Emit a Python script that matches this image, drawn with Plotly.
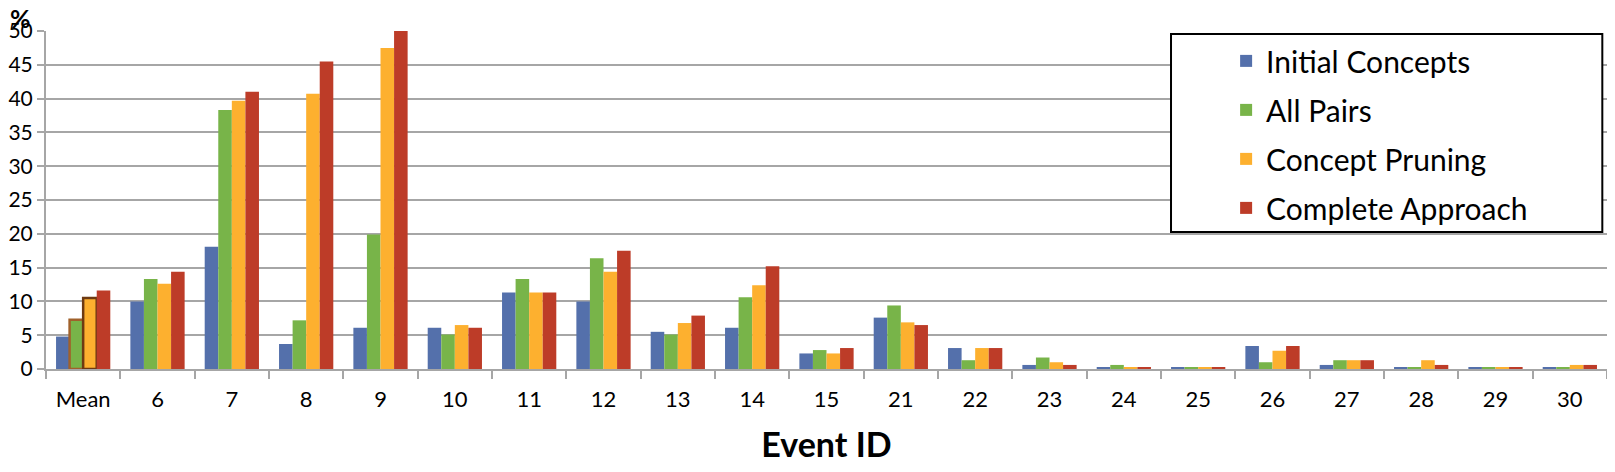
import plotly.graph_objects as go

# event ids on the x axis
events = ["Mean", "6", "7", "8", "9", "10", "11", "12", "13", "14", "15",
          "21", "22", "23", "24", "25", "26", "27", "28", "29", "30"]

# percentages, one list per approach
initial_concepts = [4.8, 10.0, 18.1, 3.7, 6.1, 6.1, 11.3, 10.0, 5.5, 6.1, 2.3,
                    7.6, 3.1, 0.6, 0.3, 0.3, 3.4, 0.6, 0.3, 0.3, 0.3]
all_pairs = [7.3, 13.3, 38.3, 7.2, 19.9, 5.1, 13.3, 16.4, 5.1, 10.6, 2.8,
             9.4, 1.3, 1.7, 0.6, 0.3, 1.0, 1.3, 0.3, 0.3, 0.3]
concept_pruning = [10.5, 12.6, 39.7, 40.7, 47.5, 6.5, 11.3, 14.4, 6.8, 12.4, 2.3,
                   6.9, 3.1, 1.0, 0.3, 0.3, 2.7, 1.3, 1.3, 0.3, 0.6]
complete_approach = [11.6, 14.4, 41.0, 45.5, 50.0, 6.1, 11.3, 17.5, 7.9, 15.2, 3.1,
                     6.5, 3.1, 0.6, 0.3, 0.3, 3.4, 1.3, 0.6, 0.3, 0.6]

y_ticks = [0, 5, 10, 15, 20, 25, 30, 35, 40, 45, 50]

series = [
    ("Initial Concepts", initial_concepts, "#5470AB", None),
    ("All Pairs", all_pairs, "#78B449", "#A0612B"),
    ("Concept Pruning", concept_pruning, "#FDB02F", "#6E3A12"),
    ("Complete Approach", complete_approach, "#BD3C28", None),
]

fig = go.Figure()
for i, (name, vals, color, outline) in enumerate(series):
    fig.add_trace(go.Bar(x=events, y=vals, name=name, offsetgroup=str(i),
                         legendgroup=str(i), marker=dict(color=color, line=dict(width=0))))
    # the Mean bars of two series carry a dark outline in the original;
    # drawn as an extra bar in the same offset group so the legend stays plain
    if outline:
        fig.add_trace(go.Bar(x=events[:1], y=vals[:1], offsetgroup=str(i),
                             showlegend=False, hoverinfo="skip",
                             marker=dict(color=color, line=dict(color=outline, width=2.5))))

# the page body has an 8px margin, so the figure is kept 16px smaller than the window
fig.update_layout(
    width=1599, height=456,
    barmode="group", bargap=0.27, bargroupgap=0.0,
    plot_bgcolor="white", paper_bgcolor="white",
    margin=dict(l=38, r=0, t=23, b=85),
    font=dict(family="Lato, sans-serif", color="black"),
    legend=dict(x=0.756, y=0.9885, xanchor="left", yanchor="top",
                bgcolor="rgba(0,0,0,0)", borderwidth=0,
                font=dict(size=30), tracegroupgap=7, itemwidth=30),
    # wide white box behind the legend, as in the original
    shapes=[dict(type="rect", xref="paper", yref="paper", x0=0.7207, x1=0.997,
                 y0=0.405, y1=0.991, fillcolor="white", layer="above",
                 line=dict(color="black", width=2))],
    annotations=[dict(text="<b>%</b>", xref="paper", yref="paper", x=0, y=1.0,
                      xanchor="left", yanchor="bottom", xshift=-38, yshift=-4,
                      showarrow=False, font=dict(size=25))],
)
fig.update_xaxes(showline=True, linecolor="#A6A6A6", linewidth=2,
                 ticks="outside", tickson="boundaries", ticklen=8, tickwidth=2,
                 tickcolor="#A6A6A6", tickfont=dict(size=22), ticklabelstandoff=10,
                 title=dict(text="<b>Event ID</b>", font=dict(size=34), standoff=28))
fig.update_yaxes(range=[0, 50], tickvals=y_ticks, showgrid=True, gridcolor="#A6A6A6",
                 gridwidth=2, showline=True, linecolor="#A6A6A6", linewidth=2,
                 ticks="outside", ticklen=7, tickwidth=2, tickcolor="#A6A6A6",
                 tickfont=dict(size=21), zeroline=False)

fig.write_html("out.html", config={"displayModeBar": False})
